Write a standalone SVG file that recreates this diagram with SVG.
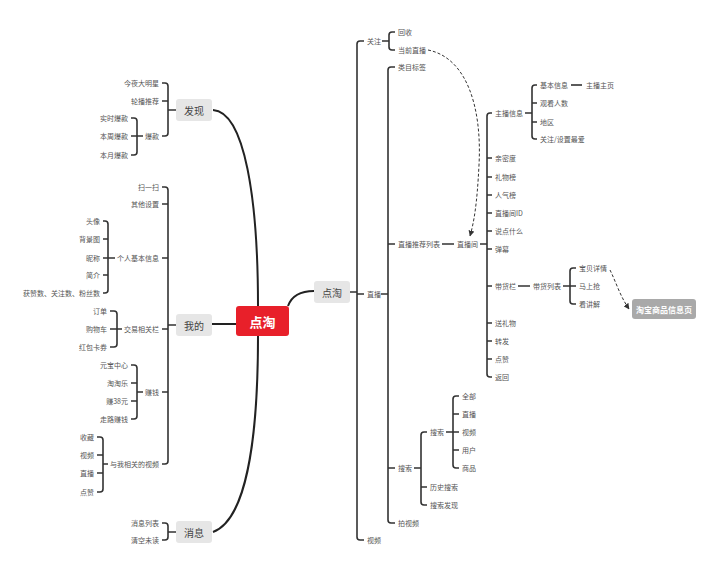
<svg xmlns="http://www.w3.org/2000/svg" width="720" height="572" viewBox="0 0 720 572">
<style>
.t{font-family:"Noto Sans CJK SC","Noto Sans",sans-serif;font-size:7px;fill:#555;dominant-baseline:central}
.e{text-anchor:end}
.box{fill:#e6e6e6}
.m{font-family:"Noto Sans CJK SC","Noto Sans",sans-serif;font-size:10px;fill:#444;text-anchor:middle;dominant-baseline:central}
.c{fill:none;stroke:#333;stroke-width:1.6}
.k{fill:none;stroke:#222;stroke-width:2}
.d{fill:none;stroke:#333;stroke-width:1;stroke-dasharray:3 2}
</style>
<defs>
<marker id="ah" viewBox="0 0 10 10" refX="9" refY="5" markerWidth="6" markerHeight="6" orient="auto"><path d="M0,0 L10,5 L0,10 z" fill="#333"/></marker>
</defs>
<rect width="720" height="572" fill="#fff"/>
<g id="connectors">
<path class="k" d="M213,110 C245,112 258,200 258,306"/>
<path class="k" d="M258,336 C258,440 246,520 213,532"/>
<path class="k" d="M212,324 H237"/>
<path class="k" d="M288,306 C292,295 302,291 314,291"/>
<path class="c" d="M162,83 H165 Q168,83 168,86 V133 Q168,136 165,136 H162 M162,101 H168 M168,110 H176"/>
<path class="c" d="M131,118 H134 Q137,118 137,121 V152 Q137,155 134,155 H131 M131,136 H143"/>
<path class="c" d="M162,187 H165 Q168,187 168,190 V461 Q168,464 165,464 H162 M162,204 H168 M162,258 H168 M162,329 H168 M162,392 H168 M168,325 H176"/>
<path class="c" d="M103,221 H105 Q108,221 108,224 V290 Q108,293 105,293 H103 M103,239 H108 M103,258 H115 M103,275 H108"/>
<path class="c" d="M110,311 H114 Q117,311 117,314 V344 Q117,347 114,347 H110 M110,329 H122"/>
<path class="c" d="M131,365 H134 Q137,365 137,368 V416 Q137,419 134,419 H131 M131,383 H137 M131,401 H137 M137,392 H143"/>
<path class="c" d="M97,437 H100 Q103,437 103,440 V489 Q103,492 100,492 H97 M97,455 H103 M97,473 H103 M103,464 H108"/>
<path class="c" d="M162,523 H165 Q168,523 168,526 V537 Q168,540 165,540 H162 M168,532 H176"/>
<path class="c" d="M364,41 H360 Q357,41 357,44 V537 Q357,540 360,540 H364 M357,294 H364 M350,292 H357"/>
<path class="c" d="M395,32 H392 Q389,32 389,35 V47 Q389,50 392,50 H395 M382,41 H389"/>
<path class="c" d="M395,67 H391 Q388,67 388,70 V520 Q388,523 391,523 H395 M388,244 H395 M388,468 H395 M381,294 H388"/>
<path class="c" d="M442,244 H454 M480,244 H487"/>
<path class="c" d="M492,113 H490 Q487,113 487,116 V374 Q487,377 490,377 H492 M487,158 H492 M487,177 H492 M487,195 H492 M487,213 H492 M487,231 H492 M487,249 H492 M487,286 H492 M487,323 H492 M487,341 H492 M487,359 H492"/>
<path class="c" d="M537,85 H535 Q532,85 532,88 V136 Q532,139 535,139 H537 M532,103 H537 M532,122 H537 M525,113 H532"/>
<path class="c" d="M571,85 H582"/>
<path class="c" d="M518,286 H530 M563,286 H570"/>
<path class="c" d="M576,268 H573 Q570,268 570,271 V301 Q570,304 573,304 H576 M570,286 H576"/>
<path class="c" d="M427,432 H424 Q421,432 421,435 V502 Q421,505 424,505 H427 M421,487 H427 M414,468 H421"/>
<path class="c" d="M459,396 H456 Q453,396 453,399 V465 Q453,468 456,468 H459 M453,414 H459 M453,432 H459 M453,450 H459 M446,432 H453"/>
<path class="d" d="M428,50 C468,58 482,110 479,165 C477,205 474,222 470,236" marker-end="url(#ah)"/>
<path class="d" d="M610,270 C616,282 620,296 629,309" marker-end="url(#ah)"/>
</g>
<g id="root"><rect x="236" y="306" width="53" height="30" rx="3" fill="#e8202a"/><text x="262.5" y="321" font-family="Noto Sans CJK SC,sans-serif" font-size="13" font-weight="bold" fill="#fff" text-anchor="middle" dominant-baseline="central">点淘</text></g>
<g id="n-faxian"><rect class="box" x="176" y="99" width="36" height="22" rx="3"/><text class="m" x="194" y="110">发现</text></g>
<g id="n-wode"><rect class="box" x="176" y="314" width="36" height="22" rx="3"/><text class="m" x="194" y="325">我的</text></g>
<g id="n-xiaoxi"><rect class="box" x="176" y="521" width="36" height="22" rx="3"/><text class="m" x="194" y="532">消息</text></g>
<g id="n-diantao2"><rect class="box" x="314" y="281" width="36" height="22" rx="3"/><text class="m" x="332" y="292">点淘</text></g>
<g id="n-l1"><text class="t e" x="159" y="83">今夜大明星</text></g>
<g id="n-l2"><text class="t e" x="159" y="101">轮播推荐</text></g>
<g id="n-l3"><text class="t e" x="159" y="136">爆款</text></g>
<g id="n-l4"><text class="t e" x="128" y="118">实时爆款</text></g>
<g id="n-l5"><text class="t e" x="128" y="136">本周爆款</text></g>
<g id="n-l6"><text class="t e" x="128" y="155">本月爆款</text></g>
<g id="n-l7"><text class="t e" x="159" y="187">扫一扫</text></g>
<g id="n-l8"><text class="t e" x="159" y="204">其他设置</text></g>
<g id="n-l9"><text class="t e" x="159" y="258">个人基本信息</text></g>
<g id="n-l10"><text class="t e" x="100" y="221">头像</text></g>
<g id="n-l11"><text class="t e" x="100" y="239">背景图</text></g>
<g id="n-l12"><text class="t e" x="100" y="258">昵称</text></g>
<g id="n-l13"><text class="t e" x="100" y="275">简介</text></g>
<g id="n-l14"><text class="t e" x="100" y="293">获赞数、关注数、粉丝数</text></g>
<g id="n-l15"><text class="t e" x="159" y="329">交易相关栏</text></g>
<g id="n-l16"><text class="t e" x="107" y="311">订单</text></g>
<g id="n-l17"><text class="t e" x="107" y="329">购物车</text></g>
<g id="n-l18"><text class="t e" x="107" y="347">红包卡券</text></g>
<g id="n-l19"><text class="t e" x="159" y="392">赚钱</text></g>
<g id="n-l20"><text class="t e" x="128" y="365">元宝中心</text></g>
<g id="n-l21"><text class="t e" x="128" y="383">淘淘乐</text></g>
<g id="n-l22"><text class="t e" x="128" y="401">赚38元</text></g>
<g id="n-l23"><text class="t e" x="128" y="419">走路赚钱</text></g>
<g id="n-l24"><text class="t e" x="159" y="464">与我相关的视频</text></g>
<g id="n-l25"><text class="t e" x="94" y="437">收藏</text></g>
<g id="n-l26"><text class="t e" x="94" y="455">视频</text></g>
<g id="n-l27"><text class="t e" x="94" y="473">直播</text></g>
<g id="n-l28"><text class="t e" x="94" y="492">点赞</text></g>
<g id="n-l29"><text class="t e" x="159" y="523">消息列表</text></g>
<g id="n-l30"><text class="t e" x="159" y="540">清空未读</text></g>
<g id="n-r1"><text class="t" x="367" y="41">关注</text></g>
<g id="n-r2"><text class="t" x="367" y="294">直播</text></g>
<g id="n-r3"><text class="t" x="367" y="540">视频</text></g>
<g id="n-r4"><text class="t" x="398" y="32">回收</text></g>
<g id="n-r5"><text class="t" x="398" y="50">当前直播</text></g>
<g id="n-r6"><text class="t" x="398" y="67">类目标签</text></g>
<g id="n-r7"><text class="t" x="398" y="244">直播推荐列表</text></g>
<g id="n-r8"><text class="t" x="398" y="468">搜索</text></g>
<g id="n-r9"><text class="t" x="398" y="523">拍视频</text></g>
<g id="n-r10"><text class="t" x="457" y="244">直播间</text></g>
<g id="n-r11"><text class="t" x="495" y="113">主播信息</text></g>
<g id="n-r12"><text class="t" x="495" y="158">亲密度</text></g>
<g id="n-r13"><text class="t" x="495" y="177">礼物榜</text></g>
<g id="n-r14"><text class="t" x="495" y="195">人气榜</text></g>
<g id="n-r15"><text class="t" x="495" y="213">直播间ID</text></g>
<g id="n-r16"><text class="t" x="495" y="231">说点什么</text></g>
<g id="n-r17"><text class="t" x="495" y="249">弹幕</text></g>
<g id="n-r18"><text class="t" x="495" y="286">带货栏</text></g>
<g id="n-r19"><text class="t" x="495" y="323">送礼物</text></g>
<g id="n-r20"><text class="t" x="495" y="341">转发</text></g>
<g id="n-r21"><text class="t" x="495" y="359">点赞</text></g>
<g id="n-r22"><text class="t" x="495" y="377">返回</text></g>
<g id="n-r23"><text class="t" x="540" y="85">基本信息</text></g>
<g id="n-r24"><text class="t" x="540" y="103">观看人数</text></g>
<g id="n-r25"><text class="t" x="540" y="122">地区</text></g>
<g id="n-r26"><text class="t" x="540" y="139">关注/设置最爱</text></g>
<g id="n-r27"><text class="t" x="586" y="85">主播主页</text></g>
<g id="n-r28"><text class="t" x="533" y="286">带货列表</text></g>
<g id="n-r29"><text class="t" x="579" y="268">宝贝详情</text></g>
<g id="n-r30"><text class="t" x="579" y="286">马上抢</text></g>
<g id="n-r31"><text class="t" x="579" y="304">看讲解</text></g>
<g id="n-r32"><rect x="632" y="299" width="64" height="20" rx="3" fill="#a9a9a9"/><text x="664" y="309" font-family="Noto Sans CJK SC,sans-serif" font-size="8" font-weight="bold" fill="#fff" text-anchor="middle" dominant-baseline="central">淘宝商品信息页</text></g>
<g id="n-r33"><text class="t" x="430" y="432">搜索</text></g>
<g id="n-r34"><text class="t" x="430" y="487">历史搜索</text></g>
<g id="n-r35"><text class="t" x="430" y="505">搜索发现</text></g>
<g id="n-r36"><text class="t" x="462" y="396">全部</text></g>
<g id="n-r37"><text class="t" x="462" y="414">直播</text></g>
<g id="n-r38"><text class="t" x="462" y="432">视频</text></g>
<g id="n-r39"><text class="t" x="462" y="450">用户</text></g>
<g id="n-r40"><text class="t" x="462" y="468">商品</text></g>
</svg>
